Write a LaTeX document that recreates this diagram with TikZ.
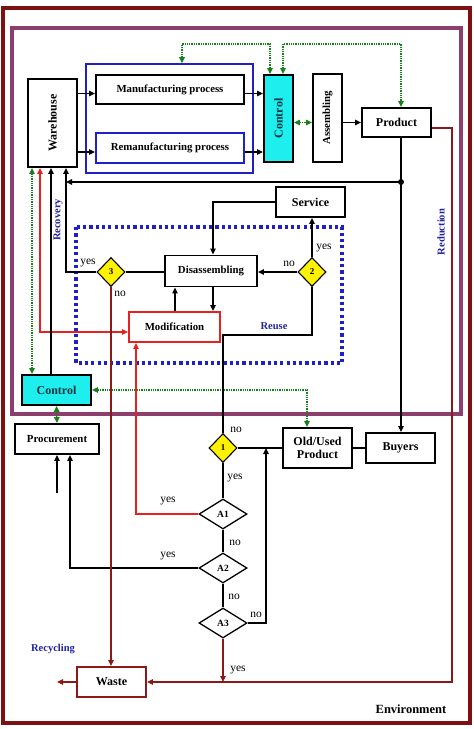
\documentclass[tikz,border=0pt]{standalone}
\usepackage{fontspec}
\usepackage{graphicx}
\setmainfont{Liberation Serif}
\usetikzlibrary{arrows.meta,shapes.geometric}
\definecolor{envred}{RGB}{125,16,16}
\definecolor{dred}{RGB}{140,24,24}
\definecolor{purp}{RGB}{140,62,108}
\definecolor{bred}{RGB}{232,32,32}
\definecolor{ccyan}{RGB}{30,238,238}
\definecolor{dyel}{RGB}{255,242,0}
\definecolor{ggreen}{RGB}{24,128,24}
\definecolor{bblue}{RGB}{32,32,200}
\definecolor{tblue}{RGB}{36,36,160}
\definecolor{teal}{RGB}{8,52,64}
\begin{document}
\begin{tikzpicture}[x=1pt,y=-1pt,
  box/.style={draw,line width=1.9pt,fill=white,inner sep=0pt,align=center,font=\fontsize{10.8}{12}\selectfont\bfseries},
  bigbox/.style={box,font=\fontsize{12}{13.5}\selectfont\bfseries},
  tip/.style={-{Triangle[length=6pt,width=5.5pt]}},
  conn/.style={line width=1.3pt},
  arr/.style={conn,tip},
  gd/.style={draw=ggreen,line width=1.3pt,densely dotted,{Triangle[length=6pt,width=5.5pt]}-{Triangle[length=6pt,width=5.5pt]}},
  ydia/.style={diamond,draw,line width=1.1pt,fill=dyel,minimum width=28pt,minimum height=29pt,inner sep=0pt,font=\fontsize{9}{10}\selectfont\bfseries},
  adia/.style={diamond,draw,line width=1.3pt,fill=white,aspect=1.6,minimum width=48pt,minimum height=30pt,inner sep=0pt,font=\fontsize{9.5}{10}\selectfont\bfseries},
  lab/.style={inner sep=0pt,font=\fontsize{11.5}{13}\selectfont},
  blab/.style={inner sep=0pt,text=tblue,font=\fontsize{10.5}{12}\selectfont\bfseries}
]
\useasboundingbox (0,0) rectangle (474,729);
\fill[white] (0,0) rectangle (474,729);
% frames
\draw[envred,line width=3.2pt] (3,8) rectangle (470,723);
\draw[purp,line width=3.2pt] (12,28) rectangle (461,414);
\draw[bblue,line width=3.2pt,dash pattern=on 3.2pt off 3.1pt] (76,227) rectangle (342,363);
% group box
\node[draw=bblue,line width=1.6pt,minimum width=167pt,minimum height=109pt,inner sep=0pt] (grp) at (169.5,118.5) {};
% nodes
\node[bigbox,minimum width=49pt,minimum height=88pt] (wh) at (52.5,123) {\rotatebox{90}{Warehouse}};
\node[box,minimum width=148pt,minimum height=29pt] (mfg) at (170,89.5) {Manufacturing process};
\node[box,draw=bblue,minimum width=148pt,minimum height=30pt] (rem) at (170,148) {Remanufacturing process};
\node[bigbox,fill=ccyan,text=teal,minimum width=29pt,minimum height=87pt] (ctl) at (278.5,118.5) {\rotatebox{90}{Control}};
\node[box,minimum width=29pt,minimum height=88pt] (asm) at (327.5,118) {\rotatebox{90}{Assembling}};
\node[bigbox,minimum width=69pt,minimum height=29pt] (prod) at (396.5,122.5) {Product};
\node[bigbox,minimum width=69pt,minimum height=30pt] (serv) at (310.5,202) {Service};
\node[box,minimum width=92pt,minimum height=31pt] (dis) at (211,271) {Disassembling};
\node[box,draw=bred,minimum width=91pt,minimum height=30pt] (mod) at (174.5,327) {Modification};
\node[ydia] (d2) at (312,272) {2};
\node[ydia] (d3) at (111,272) {3};
\node[bigbox,fill=ccyan,text=teal,minimum width=69pt,minimum height=30pt] (ctl2) at (56.5,390) {Control};
\node[box,minimum width=84pt,minimum height=30pt] (proc) at (57,439) {Procurement};
\node[bigbox,minimum width=69pt,minimum height=40pt] (old) at (317.5,448) {Old/Used\\Product};
\node[bigbox,minimum width=69pt,minimum height=30pt] (buy) at (400.5,448) {Buyers};
\node[ydia] (d1) at (223,448) {1};
\node[adia] (a1) at (223,514) {A1};
\node[adia] (a2) at (223,568) {A2};
\node[adia] (a3) at (223,623) {A3};
\node[bigbox,draw=dred,minimum width=69pt,minimum height=30pt] (waste) at (111.5,682) {Waste};
% coordinates
\coordinate (ga) at (182,44);
\coordinate (gb) at (270,44);
\coordinate (gc) at (283,44);
\coordinate (gdd) at (401,44);
\coordinate (pr) at (452,128);
\coordinate (dot) at (401,182);
\coordinate (rv) at (66,272);
\coordinate (xg) at (32,300);
\coordinate (r1) at (40,332);
\coordinate (xb) at (51,300);
\coordinate (g5) at (307,390);
\coordinate (p1) at (57,493);
\coordinate (p2) at (70,568);
\coordinate (n3) at (266,623);
\coordinate (c1) at (223,335);
\coordinate (s1) at (213,202);
\coordinate (s2) at (175,300);
\coordinate (m1) at (136,514);
\coordinate (w1) at (57,682);
% top connectors
\draw[arr] ([yshift=-4pt]wh.east |- mfg.west) -- ([yshift=-4pt]mfg.west);
\draw[arr] ([yshift=-4pt]wh.east |- rem.west) -- ([yshift=-4pt]rem.west);
\draw[arr] ([yshift=-4pt]mfg.east) -- ([yshift=-4pt]mfg.east -| ctl.west);
\draw[arr] ([yshift=-4pt]rem.east) -- ([yshift=-4pt]rem.east -| ctl.west);
\draw[gd] ([yshift=-4pt]ctl.east) -- ([yshift=-4pt]ctl.east -| asm.west);
\draw[arr] (asm.east |- prod.west) -- (prod.west);
\draw[gd] (ga |- grp.north) -- (ga) -- (gb) -- (gb |- ctl.north);
\draw[gd] (gc |- ctl.north) -- (gc) -- (gdd) -- (gdd |- prod.north);
\draw[dred,line width=1.3pt,tip] (prod.east |- pr) -- (pr) |- (waste.east);
\draw[arr] (dot |- prod.south) -- (dot |- buy.north);
\fill (dot) circle (3pt);
\draw[arr] (dot) -- (rv |- dot);
% left verticals
\draw[arr] (d3.west) -- (rv) -- (rv |- wh.south);
\draw[gd] (xg |- wh.south) -- (xg |- ctl2.north);
\draw[bred,line width=1.3pt,{Triangle[length=6pt,width=5.5pt]}-{Triangle[length=6pt,width=5.5pt]}] (r1 |- wh.south) -- (r1) -- (r1 -| mod.west);
\draw[arr] (xb |- ctl2.north) -- (xb |- wh.south);
\draw[gd] (ctl2.south) -- (proc.north);
\draw[gd] (ctl2.east) -- (g5) -- (g5 |- old.north);
\draw[arr] (p1) -- (p1 |- proc.south);
\draw[arr] (a2.west) -- (p2) -- (p2 |- proc.south);
% middle
\draw[conn] (d1.east) -- (old.west);
\draw[conn] (buy.west) -- (old.east);
\draw[arr] (a3.east) -- (n3) -- (n3 |- d1.east);
\draw[conn] (d1.north) -- (c1) -| (d2.south);
\draw[arr] (d2.north) -- (d2.north |- serv.south);
\draw[arr] (d2.west) -- (d2.west -| dis.east);
\draw[arr] (serv.west) -- (s1) -- (s1 |- dis.north);
\draw[arr] (s1 |- dis.south) -- (s1 |- mod.north);
\draw[arr] (s2 |- mod.north) -- (s2 |- dis.south);
\draw[conn] (d3.east) -- (d3.east -| dis.west);
\draw[dred,line width=1.3pt,tip] (d3.south) -- (d3.south |- waste.north);
\draw[conn] (d1.south) -- (a1.north);
\draw[bred,line width=1.3pt,tip] (a1.west) -- (m1) -- (m1 |- mod.south);
\draw[conn] (a1.south) -- (a2.north);
\draw[conn] (a2.south) -- (a3.north);
\draw[dred,line width=1.3pt,tip] (a3.south) -- (a3.south |- waste.east);
\draw[dred,line width=1.3pt,tip] (waste.west) -- (w1);
% labels
\node[lab] (l1) at (88,263) {yes};
\node[lab] (l2) at (120,294) {no};
\node[lab] (l3) at (289,264) {no};
\node[lab] (l4) at (324,248) {yes};
\node[lab] (l5) at (236,430) {no};
\node[lab] (l6) at (235,478) {yes};
\node[lab] (l7) at (168,501) {yes};
\node[lab] (l8) at (235,543) {no};
\node[lab] (l9) at (168,556) {yes};
\node[lab] (l10) at (234,597) {no};
\node[lab] (l11) at (256,615) {no};
\node[lab] (l12) at (238,670) {yes};
\node[blab,rotate=90] (bl1) at (441,232) {Reduction};
\node[blab,rotate=90] (bl2) at (58,220) {Recovery};
\node[blab] (bl3) at (274,326) {Reuse};
\node[blab] (bl4) at (53,649) {Recycling};
\node[inner sep=0pt,font=\fontsize{12.5}{14}\selectfont\bfseries] (envl) at (411,709) {Environment};
\end{tikzpicture}
\end{document}
